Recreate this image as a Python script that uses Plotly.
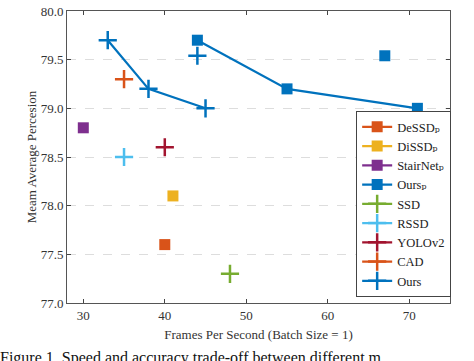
import plotly.graph_objects as go

# Data
dessd_x, dessd_y = [40], [77.6]
dissd_x, dissd_y = [41], [78.1]
stair_x, stair_y = [30], [78.8]
oursp_x, oursp_y = [44, 55, 71], [79.7, 79.2, 79.0]
oursp_extra_x, oursp_extra_y = [67], [79.54]
ssd_x, ssd_y = [48], [77.3]
rssd_x, rssd_y = [35], [78.5]
yolo_x, yolo_y = [40], [78.6]
cad_x, cad_y = [35], [79.3]
ours_x, ours_y = [33, 38, 45], [79.7, 79.2, 79.0]
ours_extra_x, ours_extra_y = [44], [79.54]

xticks = [30, 40, 50, 60, 70]
yticks = [77.0, 77.5, 78.0, 78.5, 79.0, 79.5, 80.0]

FONT = "Liberation Serif, Times New Roman, DejaVu Serif, serif"

def sq(name, x, y, color, show=True):
    return go.Scatter(x=x, y=y, name=name, mode="lines+markers", showlegend=show,
                      line=dict(color=color, width=2.2),
                      marker=dict(symbol="square", size=11, color=color))

def cr(name, x, y, color, show=True):
    return go.Scatter(x=x, y=y, name=name, mode="lines+markers", showlegend=show,
                      line=dict(color=color, width=2.2),
                      marker=dict(symbol="cross-thin", size=13, color=color,
                                  line=dict(color=color, width=2.5)))

fig = go.Figure()
fig.add_trace(sq("DeSSDₚ", dessd_x, dessd_y, "#D95319"))
fig.add_trace(sq("DiSSDₚ", dissd_x, dissd_y, "#EDB120"))
fig.add_trace(sq("StairNetₚ", stair_x, stair_y, "#7E2F8E"))
fig.add_trace(sq("Oursₚ", oursp_x, oursp_y, "#0072BD"))
fig.add_trace(sq("Ours_p extra", oursp_extra_x, oursp_extra_y, "#0072BD", show=False))
fig.add_trace(cr("SSD", ssd_x, ssd_y, "#77AC30"))
fig.add_trace(cr("RSSD", rssd_x, rssd_y, "#4DBEEE"))
fig.add_trace(cr("YOLOv2", yolo_x, yolo_y, "#A2142F"))
fig.add_trace(cr("CAD", cad_x, cad_y, "#D95319"))
fig.add_trace(cr("Ours", ours_x, ours_y, "#0072BD"))
fig.add_trace(cr("Ours extra", ours_extra_x, ours_extra_y, "#0072BD", show=False))

fig.update_layout(
    width=474, height=361,
    margin=dict(l=67, r=24, t=4, b=58),
    paper_bgcolor="white", plot_bgcolor="white",
    font=dict(family=FONT, size=13, color="#333333"),
    showlegend=True,
    legend=dict(x=0.755, y=0.02, xanchor="left", yanchor="bottom",
                bgcolor="white", bordercolor="#444444", borderwidth=1,
                font=dict(family=FONT, size=12.5, color="#222222"),
                tracegroupgap=0, itemwidth=30),
    xaxis=dict(range=[28, 75], tickvals=xticks, ticks="inside", ticklen=4,
               showline=True, linecolor="#555555", linewidth=1, mirror="ticks",
               showgrid=False, zeroline=False, ticklabeloverflow="allow",
               title=dict(text="Frames Per Second (Batch Size = 1)", standoff=8,
                          font=dict(family=FONT, size=13))),
    yaxis=dict(range=[77.0, 80.0], tickvals=yticks, tickformat=".1f",
               ticks="inside", ticklen=4, ticklabeloverflow="allow",
               showline=True, linecolor="#555555", linewidth=1, mirror="ticks",
               showgrid=True, gridcolor="#dddddd", griddash="dash", gridwidth=1,
               zeroline=False,
               title=dict(text="Meam Average Percesion", standoff=1,
                          font=dict(family=FONT, size=13))),
)

fig.add_annotation(text="Figure 1. Speed and accuracy trade-off between different m",
                   xref="paper", yref="paper", x=-0.18, y=-0.15,
                   xanchor="left", yanchor="top", showarrow=False,
                   font=dict(family=FONT, size=16, color="#111111"))

fig.write_html("out.html", config={"displayModeBar": False},
               post_script="document.body.style.margin='0';")
